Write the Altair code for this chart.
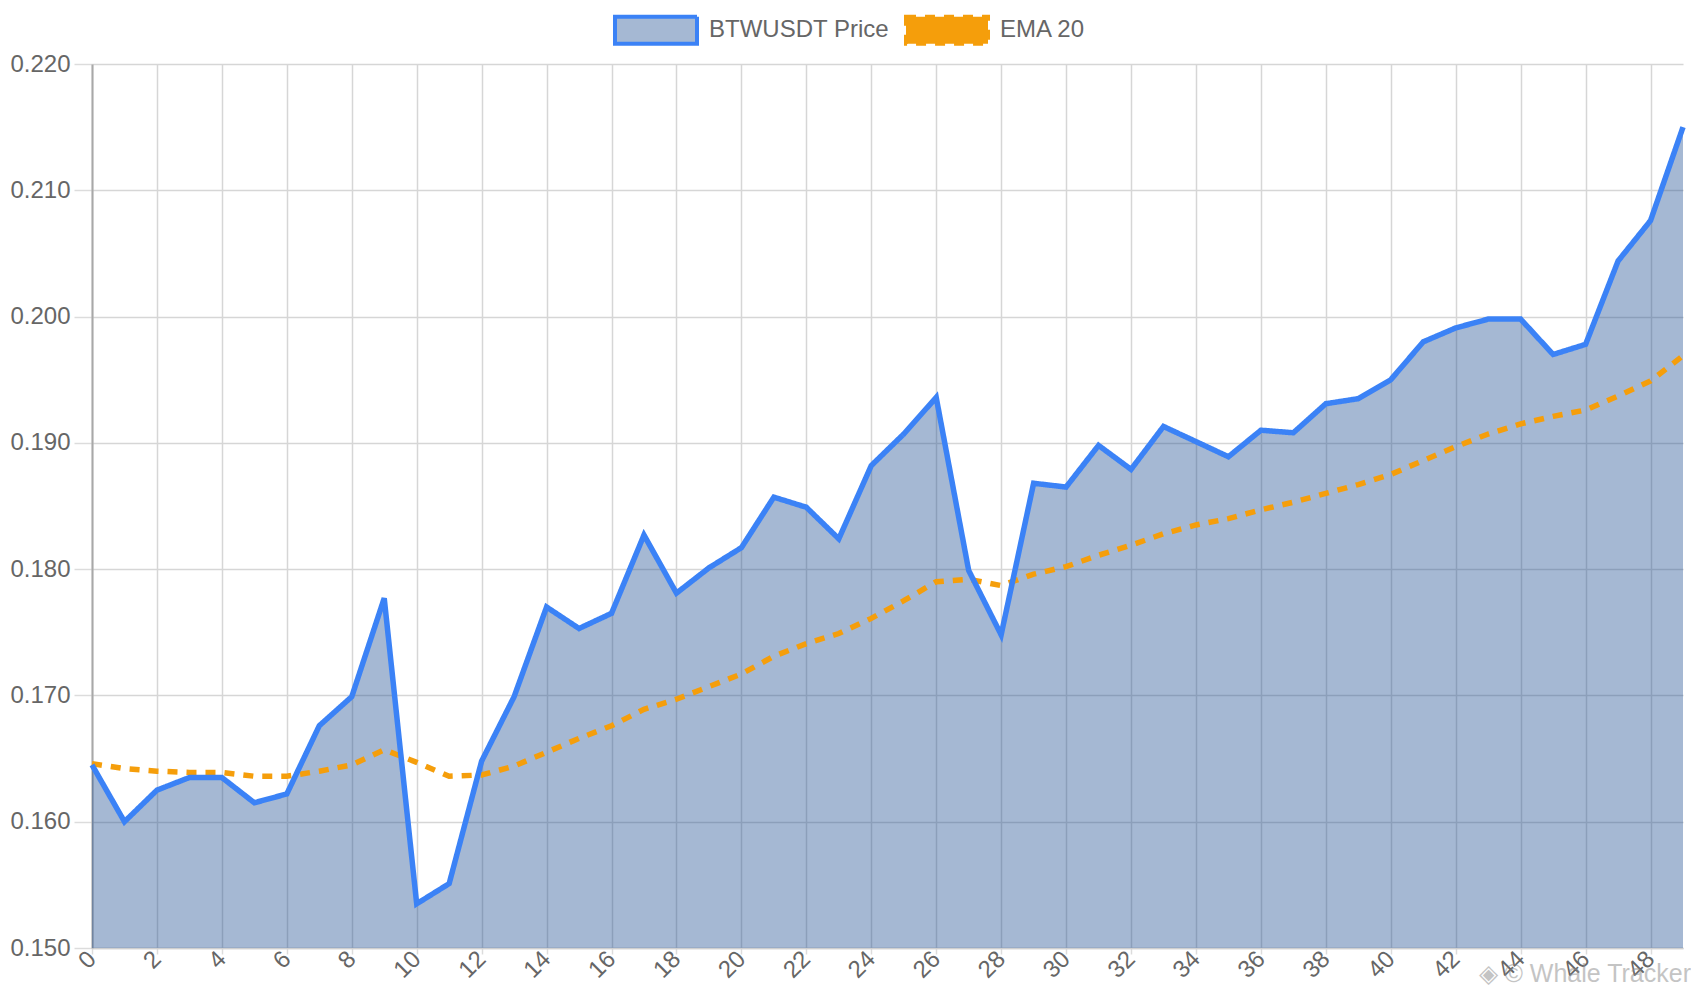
import altair as alt
import pandas as pd

# ---- data ----
series_names = ["BTWUSDT Price", "EMA 20"]

price = [0.1645, 0.1600, 0.1625, 0.1635, 0.1635, 0.1615, 0.1622, 0.1676, 0.1699, 0.1777,
         0.1535, 0.1551, 0.1648, 0.1699, 0.1770, 0.1753, 0.1765, 0.1827, 0.1781, 0.1801,
         0.1817, 0.1857, 0.1849, 0.1824, 0.1882, 0.1907, 0.1936, 0.1799, 0.1748, 0.1868,
         0.1865, 0.1898, 0.1879, 0.1913, 0.1901, 0.1889, 0.1910, 0.1908, 0.1931, 0.1935,
         0.1950, 0.1980, 0.1991, 0.1998, 0.1998, 0.1970, 0.1978, 0.2044, 0.2076, 0.2150]

ema = [0.1646, 0.1642, 0.1640, 0.1639, 0.1639, 0.1636, 0.1636, 0.1640, 0.1645, 0.1657,
       0.1647, 0.1636, 0.1637, 0.1644, 0.1655, 0.1666, 0.1676, 0.1689, 0.1697, 0.1707,
       0.1717, 0.1731, 0.1741, 0.1749, 0.1761, 0.1775, 0.1790, 0.1792, 0.1787, 0.1796,
       0.1802, 0.1811, 0.1819, 0.1828, 0.1835, 0.1840, 0.1847, 0.1853, 0.1860, 0.1867,
       0.1875, 0.1886, 0.1897, 0.1907, 0.1915, 0.1921, 0.1926, 0.1937, 0.1949, 0.1969]

x_ticks = list(range(0, 49, 2))
y_ticks = [0.150, 0.160, 0.170, 0.180, 0.190, 0.200, 0.210, 0.220]
watermark = ["◈ © Whale Tracker"]

rows = []
for i, (p, e) in enumerate(zip(price, ema)):
    rows.append({"i": i, "v": p, "s": series_names[0]})
    rows.append({"i": i, "v": e, "s": series_names[1]})
df = pd.DataFrame(rows)

FONT = "Liberation Sans"
GREY = "#666666"

x_enc = alt.X("i:Q", title=None,
              scale=alt.Scale(domain=[0, len(price) - 1], nice=False, zero=False),
              axis=alt.Axis(values=x_ticks, labelAngle=-45, labelAlign="right",
                            labelBaseline="middle", labelFontSize=24, labelFont=FONT,
                            labelColor=GREY, tickSize=6, labelPadding=1,
                            tickColor="#dcdcdc", tickWidth=1.5,
                            grid=True, gridColor="#d6d6d6", gridWidth=1.5,
                            domainColor="#cfcfcf", domainWidth=1.5, labelFlush=False))
y_enc = alt.Y("v:Q", title=None,
              scale=alt.Scale(domain=[0.15, 0.22], nice=False, zero=False),
              axis=alt.Axis(values=y_ticks, format=".3f", labelFontSize=24, labelFont=FONT,
                            labelColor=GREY, tickSize=18, labelPadding=4,
                            tickColor="#dcdcdc", tickWidth=1.5,
                            grid=True, gridColor="#d6d6d6", gridWidth=1.5,
                            domainColor="#a8a8a8", domainWidth=2))

fill_scale = alt.Scale(domain=series_names, range=["rgba(30,78,145,0.4)", "#f59e0b"])
stroke_scale = alt.Scale(domain=series_names, range=["#3b82f6", "#f59e0b"])
dash_scale = alt.Scale(domain=series_names, range=[[1, 0], [10, 9]])

base = alt.Chart(df)

area = base.transform_filter(alt.datum.s == series_names[0]).mark_area(
    interpolate="linear").encode(
    x=x_enc, y=y_enc, y2=alt.datum(0.15),
    fill=alt.Fill("s:N", scale=fill_scale, title=None),
)

ema_line = base.transform_filter(alt.datum.s == series_names[1]).mark_line(
    strokeWidth=5.5, interpolate="linear", strokeJoin="miter", strokeCap="butt").encode(
    x=x_enc, y=y_enc,
    stroke=alt.Stroke("s:N", scale=stroke_scale, title=None),
    strokeDash=alt.StrokeDash("s:N", scale=dash_scale, title=None),
)

price_line = base.transform_filter(alt.datum.s == series_names[0]).mark_line(
    strokeWidth=5.5, interpolate="linear", strokeJoin="miter", strokeCap="butt").encode(
    x=x_enc, y=y_enc,
    stroke=alt.Stroke("s:N", scale=stroke_scale, title=None),
    strokeDash=alt.StrokeDash("s:N", scale=dash_scale, title=None),
)

wm = alt.Chart(pd.DataFrame({"t": watermark})).mark_text(
    align="right", baseline="middle", fontSize=25, font=FONT, color="#8a8a8a",
    opacity=0.5).encode(text="t:N", x=alt.value(1599), y=alt.value(910))

chart = alt.layer(area, ema_line, price_line, wm).properties(
    width=1591, height=884,
    autosize=alt.AutoSizeParams(type="none"),
    padding={"left": 84, "top": 56, "right": 9, "bottom": 38},
).configure_view(stroke=None).configure_legend(
    orient="none", legendX=521, legendY=-77, direction="horizontal",
    symbolType="M-1,-0.33H1V0.33H-1Z", symbolSize=6724, symbolStrokeWidth=4,
    labelFontSize=24, labelFont=FONT, labelColor=GREY, labelOffset=10,
    labelLimit=600, columnPadding=9, padding=0, titleFontSize=0,
)

chart.save("out.html", embed_options={"renderer": "svg", "actions": False})
